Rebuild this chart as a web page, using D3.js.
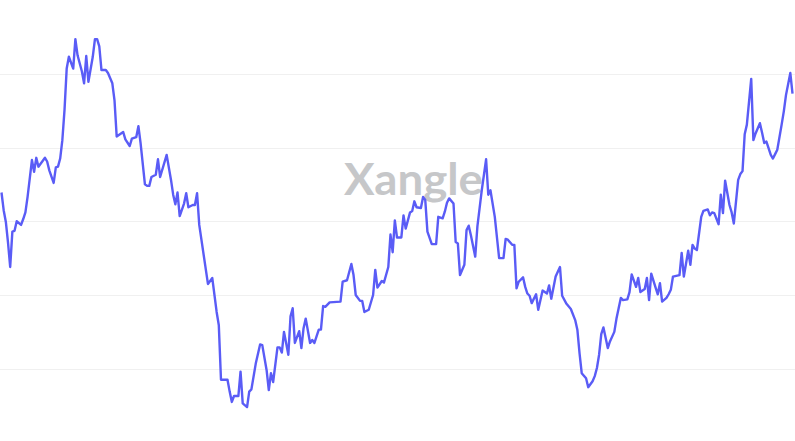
<!DOCTYPE html>
<html>
<head>
<meta charset="utf-8">
<script src="https://cdn.jsdelivr.net/npm/d3@7"></script>
<style>
  html, body { margin: 0; padding: 0; background: #ffffff; }
  svg { display: block; }
</style>
</head>
<body>
<svg id="chart" width="795" height="441"></svg>
<script>
// Day index of each observation (x axis)
const days = [0,1,2,3,4,5,6,7,9,10,11,12,14,15,16,17,19,20,21,22,24,25,26,27,28,29,30,31,33,34,35,37,38,39,40,42,43,44,45,46,48,49,51,52,53,56,57,59,60,62,63,64,66,67,68,69,71,72,73,76,78,79,80,81,82,84,85,86,88,89,90,91,92,95,97,99,100,101,104,105,106,107,109,110,111,113,114,115,117,119,120,122,123,124,125,127,128,129,130,132,133,134,135,137,138,139,140,142,143,144,146,147,148,149,151,156,157,159,161,162,163,165,166,167,169,171,172,173,175,176,178,179,180,181,182,184,185,186,188,189,190,191,193,194,195,196,198,200,201,203,204,205,206,208,209,210,211,213,214,215,216,218,219,221,223,224,225,227,229,231,232,233,235,236,237,238,240,241,242,243,244,246,247,249,250,251,252,253,255,257,258,260,262,264,265,266,267,269,270,272,273,274,275,276,277,279,280,282,283,284,285,286,288,289,290,292,293,294,296,297,298,299,301,302,303,304,306,307,308,309,312,313,314,316,317,318,319,320,322,323,325,326,327,328,330,331,332,333,335,336,337,339,340,341,342,343,345,346,347,349,350,351,352,354,355,356,357,359,360,361,363,364];

// Series values
const values = [339,315,299,271,238,286,287,300,295,303,312,333,383,367,386,374,382,386,381,369,352,373,374,385,410,451,507,523,507,547,525,503,487,524,489,523,547,547,537,505,505,501,487,464,415,421,411,402,412,414,429,406,350,348,348,360,363,384,360,390,356,336,323,339,307,324,338,319,322,322,338,295,275,215,223,177,159,85,85,69,55,63,63,96,53,48,69,72,107,133,132,98,71,94,82,129,129,122,150,119,171,182,135,151,128,155,168,135,139,135,153,153,185,184,190,191,218,220,242,227,200,192,192,177,180,200,234,210,219,217,238,282,258,301,278,278,308,290,312,314,327,319,318,333,329,286,269,269,306,304,313,325,331,324,272,270,227,241,288,294,281,252,293,342,384,336,342,306,250,250,276,275,268,268,209,218,224,211,202,199,189,201,180,206,204,202,213,195,225,238,199,188,181,166,153,121,94,87,75,83,90,101,119,147,156,128,137,150,168,182,196,193,194,204,228,211,223,204,208,223,193,229,210,201,216,191,196,201,207,225,227,257,225,260,241,268,263,261,306,314,316,308,312,311,296,336,311,355,322,312,297,356,364,368,418,431,493,410,419,433,420,406,408,390,385,391,397,431,449,471,501,473];

// Gridline values (no labels shown)
const gridTicks = [100, 200, 300, 400, 500];
const watermark = "Xangle";

const W = 795, H = 441;
const svg = d3.select("#chart");

const x = d3.scaleLinear().domain([0, 364]).range([1.5, 792.5]);
const y = d3.scaleLinear().domain([0, 600]).range([442.5, 0]);

// gridlines
svg.append("g")
  .selectAll("line")
  .data(gridTicks)
  .join("line")
  .attr("x1", 0).attr("x2", W)
  .attr("y1", d => Math.round(y(d)) + 0.5)
  .attr("y2", d => Math.round(y(d)) + 0.5)
  .attr("stroke", "#f0f0f0")
  .attr("stroke-width", 1);

// watermark
svg.append("text")
  .attr("x", 344)
  .attr("y", 195)
  .attr("font-family", "Lato, 'Noto Sans', sans-serif")
  .attr("font-weight", 700)
  .attr("font-size", 44)
  .attr("fill", "#c6c7c9")
  .attr("textLength", 139)
  .attr("lengthAdjust", "spacingAndGlyphs")
  .text(watermark);

// line
const data = days.map((d, i) => ({ d, v: values[i] }));
const line = d3.line().x(p => x(p.d)).y(p => y(p.v));

svg.append("path")
  .datum(data)
  .attr("fill", "none")
  .attr("stroke", "#5a5cf6")
  .attr("stroke-width", 2.4)
  .attr("stroke-linejoin", "round")
  .attr("d", line);
</script>
</body>
</html>
